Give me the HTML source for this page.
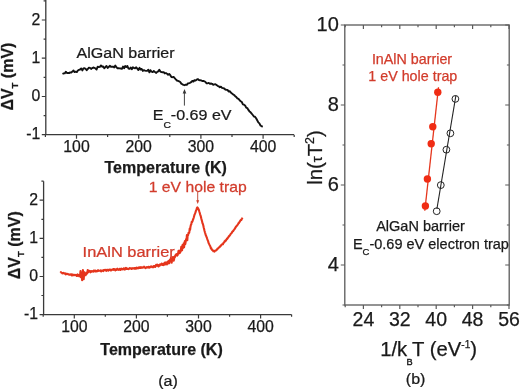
<!DOCTYPE html>
<html><head><meta charset="utf-8"><title>Figure</title>
<style>
html,body{margin:0;padding:0;background:#fff;}
body{width:520px;height:390px;overflow:hidden;}
svg{display:block;}
text{font-family:"Liberation Sans", sans-serif;fill:#1a1a1a;stroke:#1a1a1a;stroke-width:0.25px;}
.tl{font-size:15.8px;}
.tr{font-size:19.5px;}
.an{font-size:14.8px;}
.ar{font-size:14.5px;}
.ax{font-size:16px;font-weight:bold;}
.lr{font-size:19.5px;}
.cap{font-size:14.8px;}
.red{fill:#d23c2c;stroke:#d23c2c;}
</style></head><body>
<svg width="520" height="390" viewBox="0 0 520 390">
<rect width="520" height="390" fill="#fff"/>
<path d="M45.8,0V134.7H294" fill="none" stroke="#3a3a3a" stroke-width="1.3"/>
<path d="M45.8,0.9h-2.2M45.8,20.0h-4M45.8,39.1h-2.2M45.8,58.2h-4M45.8,77.3h-2.2M45.8,96.5h-4M45.8,115.6h-2.2M45.8,134.7h-4M45.4,134.7v2.2M76.5,134.7v4M107.6,134.7v2.2M138.7,134.7v4M169.8,134.7v2.2M200.9,134.7v4M232.0,134.7v2.2M263.1,134.7v4M294.2,134.7v2.2" fill="none" stroke="#3a3a3a" stroke-width="1.2"/>
<text transform="translate(40.3,24.6) scale(1,1)" text-anchor="end" class="tl">2</text>
<text transform="translate(40.3,62.8) scale(1,1)" text-anchor="end" class="tl">1</text>
<text transform="translate(40.3,101.1) scale(1,1)" text-anchor="end" class="tl">0</text>
<text transform="translate(40.3,139.3) scale(1,1)" text-anchor="end" class="tl">-1</text>
<text transform="translate(76.5,151.7) scale(1,1)" text-anchor="middle" class="tl">100</text>
<text transform="translate(138.7,151.7) scale(1,1)" text-anchor="middle" class="tl">200</text>
<text transform="translate(200.9,151.7) scale(1,1)" text-anchor="middle" class="tl">300</text>
<text transform="translate(263.1,151.7) scale(1,1)" text-anchor="middle" class="tl">400</text>
<polyline points="62.5,74.0 63.6,73.4 64.7,73.4 65.8,71.7 66.9,73.0 68.0,72.9 69.1,73.1 70.2,72.4 71.3,72.5 72.4,71.6 73.5,70.5 74.6,72.1 75.7,71.7 76.8,72.1 77.9,70.5 79.0,69.8 80.1,69.5 81.2,68.4 82.3,70.4 83.4,68.5 84.5,68.2 85.6,68.9 86.7,70.2 87.8,69.0 88.9,67.7 90.0,67.9 91.1,68.9 92.2,68.1 93.3,67.5 94.4,67.8 95.5,68.5 96.6,69.5 97.7,66.7 98.8,67.1 99.9,66.9 101.0,65.4 102.1,66.7 103.2,66.5 104.3,68.3 105.4,67.2 106.5,65.9 107.6,67.9 108.7,67.0 109.8,65.8 110.9,66.8 112.0,66.8 113.1,66.6 114.2,67.4 115.3,65.5 116.4,67.2 117.5,68.3 118.6,68.2 119.7,68.4 120.8,68.5 121.9,68.8 123.0,66.6 124.1,68.3 125.2,66.0 126.3,67.1 127.4,66.0 128.5,68.6 129.6,68.9 130.7,67.6 131.8,69.3 132.9,67.3 134.0,68.1 135.1,68.2 136.2,67.3 137.3,68.7 138.4,70.1 139.5,67.8 140.6,69.6 141.7,68.9 142.8,70.9 143.9,70.1 145.0,70.6 146.1,70.9 147.2,70.8 148.3,69.7 149.4,72.3 150.5,70.2 151.6,71.7 152.7,72.1 153.8,71.0 154.9,71.9 156.0,72.9 157.1,72.0 158.2,71.4 159.3,69.8 160.4,71.6 161.5,72.1 162.6,72.3 163.7,72.1 164.8,73.5 165.9,73.0 167.0,73.7 168.1,74.8 169.2,74.0 170.3,75.2 171.4,77.1 172.5,77.2 173.6,76.9 174.7,78.2 175.8,79.4 176.9,80.5 178.0,80.8 179.1,81.3 180.2,82.0 181.3,83.6 182.4,84.3 183.5,84.8 184.6,85.2 185.7,84.7 186.8,84.8 187.9,83.4 189.0,83.2 190.1,82.8 191.2,82.1 192.3,80.9 193.4,81.6 194.5,80.2 195.6,80.5 196.7,79.7 197.8,79.1 198.9,80.0 200.0,80.2 201.1,80.4 202.2,81.0 203.3,80.9 204.4,81.3 205.5,82.0 206.6,83.4 207.7,83.2 208.8,82.9 209.9,83.7 211.0,83.5 212.1,83.8 213.2,84.8 214.3,84.4 215.4,84.2 216.5,85.0 217.6,85.8 218.7,86.3 219.8,87.2 220.9,86.7 222.0,87.9 223.1,88.2 224.2,88.5 225.3,89.5 226.4,89.9 227.5,89.9 228.6,91.5 229.7,91.1 230.8,92.5 231.9,93.4 233.0,94.4 234.1,95.0 235.2,96.2 236.3,97.1 237.4,98.4 238.5,98.9 239.6,100.2 240.7,101.2 241.8,102.0 242.9,104.3 244.0,104.7 245.1,105.5 246.2,107.6 247.3,108.1 248.4,109.9 249.5,111.4 250.6,112.3 251.7,113.7 252.8,115.0 253.9,116.5 255.0,116.7 256.1,118.2 257.2,120.3 258.3,122.4 259.4,123.4 260.5,125.5 261.6,126.2 262.7,126.8" fill="none" stroke="#111" stroke-width="1.9" stroke-linejoin="round"/>
<path d="M43.6,181.2V314.6H291.5" fill="none" stroke="#3a3a3a" stroke-width="1.3"/>
<path d="M43.6,181.1h-2.2M43.6,200.2h-4M43.6,219.3h-2.2M43.6,238.3h-4M43.6,257.4h-2.2M43.6,276.5h-4M43.6,295.5h-2.2M43.6,314.6h-4M43.2,314.6v2.2M74.3,314.6v4M105.3,314.6v2.2M136.4,314.6v4M167.4,314.6v2.2M198.5,314.6v4M229.6,314.6v2.2M260.6,314.6v4M291.6,314.6v2.2" fill="none" stroke="#3a3a3a" stroke-width="1.2"/>
<text transform="translate(38.1,204.8) scale(1,1)" text-anchor="end" class="tl">2</text>
<text transform="translate(38.1,242.9) scale(1,1)" text-anchor="end" class="tl">1</text>
<text transform="translate(38.1,281.1) scale(1,1)" text-anchor="end" class="tl">0</text>
<text transform="translate(38.1,319.2) scale(1,1)" text-anchor="end" class="tl">-1</text>
<text transform="translate(74.3,331.6) scale(1,1)" text-anchor="middle" class="tl">100</text>
<text transform="translate(136.4,331.6) scale(1,1)" text-anchor="middle" class="tl">200</text>
<text transform="translate(198.5,331.6) scale(1,1)" text-anchor="middle" class="tl">300</text>
<text transform="translate(260.6,331.6) scale(1,1)" text-anchor="middle" class="tl">400</text>
<polyline points="60.5,272.8 60.9,272.2 61.3,272.6 61.7,272.7 62.1,273.2 62.5,273.4 62.9,273.0 63.3,273.1 63.7,272.8 64.1,273.4 64.5,273.6 64.9,273.7 65.3,273.4 65.7,274.4 66.1,274.2 66.5,273.8 66.9,273.7 67.3,273.9 67.7,274.1 68.1,274.1 68.5,274.3 68.9,274.5 69.3,274.8 69.7,274.8 70.1,274.4 70.5,274.6 70.9,274.4 71.3,274.4 71.7,275.3 72.1,274.5 72.5,275.4 72.9,274.6 73.3,274.9 73.7,275.2 74.1,274.9 74.5,275.1 74.9,274.9 75.3,274.9 75.7,275.0 76.1,274.9 76.5,275.8 76.9,275.2 77.3,275.9 77.7,274.4 78.1,275.4 78.5,275.8 78.9,275.2 79.3,276.3 79.7,275.9 80.1,275.0 80.5,271.0 80.9,277.3 81.3,277.1 81.7,274.9 82.1,280.1 82.5,274.4 82.9,270.1 83.3,273.7 83.7,279.1 84.1,274.3 84.5,272.3 84.9,273.9 85.3,274.4 85.7,275.2 86.1,274.2 86.5,273.3 86.9,272.4 87.3,273.5 87.7,270.1 88.1,271.4 88.5,271.9 88.9,270.9 89.3,271.4 89.7,270.9 90.1,271.2 90.5,272.3 90.9,271.5 91.3,271.2 91.7,271.7 92.1,271.1 92.5,271.5 92.9,271.2 93.3,271.7 93.7,270.6 94.1,271.3 94.5,271.1 94.9,270.6 95.3,271.3 95.7,270.6 96.1,271.5 96.5,271.1 96.9,271.1 97.3,270.9 97.7,271.2 98.1,270.2 98.5,270.8 98.9,270.6 99.3,270.8 99.7,270.7 100.1,270.9 100.5,270.4 100.9,271.3 101.3,271.4 101.7,270.5 102.1,270.5 102.5,270.6 102.9,270.9 103.3,271.1 103.7,270.0 104.1,270.2 104.5,270.0 104.9,270.0 105.3,269.8 105.7,270.4 106.1,269.9 106.5,270.8 106.9,270.5 107.3,269.8 107.7,269.8 108.1,269.9 108.5,270.6 108.9,269.8 109.3,269.5 109.7,270.0 110.1,270.1 110.5,269.7 110.9,270.5 111.3,270.0 111.7,270.0 112.1,269.6 112.5,269.8 112.9,269.8 113.3,269.0 113.7,269.9 114.1,269.1 114.5,269.7 114.9,269.2 115.3,270.4 115.7,269.7 116.1,269.9 116.5,269.9 116.9,269.1 117.3,268.7 117.7,269.4 118.1,269.8 118.5,269.5 118.9,269.7 119.3,269.7 119.7,268.8 120.1,269.4 120.5,270.0 120.9,269.1 121.3,268.5 121.7,269.2 122.1,269.0 122.5,269.3 122.9,268.8 123.3,269.2 123.7,268.3 124.1,269.4 124.5,269.6 124.9,269.5 125.3,268.4 125.7,269.1 126.1,267.9 126.5,269.0 126.9,268.8 127.3,268.5 127.7,268.9 128.1,268.8 128.5,269.1 128.9,268.7 129.3,268.8 129.7,268.0 130.1,268.2 130.5,268.4 130.9,268.6 131.3,268.5 131.7,269.0 132.1,268.1 132.5,268.3 132.9,268.5 133.3,268.3 133.7,268.5 134.1,268.1 134.5,268.7 134.9,268.1 135.3,268.6 135.7,268.1 136.1,268.6 136.5,267.6 136.9,268.2 137.3,267.9 137.7,268.1 138.1,268.4 138.5,267.5 138.9,267.4 139.3,267.5 139.7,267.9 140.1,267.1 140.5,267.8 140.9,267.3 141.3,267.3 141.7,267.5 142.1,267.8 142.5,267.4 142.9,267.4 143.3,267.5 143.7,267.4 144.1,266.6 144.5,267.3 144.9,267.5 145.3,267.8 145.7,268.1 146.1,267.6 146.5,267.4 146.9,267.0 147.3,267.3 147.7,267.5 148.1,267.6 148.5,266.8 148.9,267.2 149.3,267.4 149.7,267.7 150.1,267.1 150.5,266.6 150.9,266.5 151.3,266.6 151.7,266.4 152.1,267.2 152.5,267.3 152.9,267.0 153.3,267.2 153.7,266.1 154.1,266.6 154.5,266.0 154.9,266.2 155.3,266.8 155.7,266.0 156.1,264.8 156.5,265.7 156.9,265.3 157.3,264.7 157.7,265.1 158.1,266.0 158.5,266.4 158.9,265.0 159.3,265.8 159.7,265.8 160.1,264.3 160.5,264.8 160.9,264.7 161.3,264.7 161.7,263.6 162.1,264.2 162.5,264.9 162.9,264.9 163.3,265.1 163.7,263.6 164.1,264.8 164.5,263.9 164.9,262.6 165.3,264.4 165.7,262.5 166.1,263.7 166.5,262.5 166.9,264.4 167.3,262.7 167.7,261.6 168.1,263.4 168.5,262.1 168.9,260.8 169.3,263.3 169.7,260.3 170.1,259.7 170.5,259.6 170.9,257.9 171.3,259.1 171.7,262.7 172.1,258.0 172.5,259.2 172.9,257.1 173.3,257.6 173.7,260.6 174.1,259.3 174.5,256.6 174.9,257.2 175.3,255.5 175.7,255.1 176.1,254.5 176.5,254.1 176.9,255.6 177.3,255.6 177.7,254.9 178.1,253.3 178.5,250.9 178.9,252.5 179.3,250.7 179.7,253.1 180.1,252.1 180.5,251.9 180.9,249.6 181.3,246.7 181.7,250.5 182.1,250.2 182.5,245.1 182.9,246.9 183.3,247.8 183.7,243.4 184.1,247.1 184.5,242.9 184.9,241.0 185.3,244.1 185.7,241.5 186.1,239.1 186.5,240.6 186.9,235.1 187.3,240.1 187.7,234.7 188.1,235.2 188.5,232.9 188.9,233.0 189.3,232.5 189.7,228.5 190.1,229.8 190.5,226.7 190.9,224.8 191.3,224.3 191.7,221.9 192.1,222.1 192.5,221.3 192.9,219.9 193.3,219.0 193.7,217.7 194.1,216.2 194.5,214.8 194.9,213.9 195.3,212.9 195.7,211.6 196.1,210.3 196.5,209.8 196.9,208.1 197.3,207.4 197.7,207.6 198.1,208.6 198.5,209.2 198.9,210.0 199.3,211.5 199.7,212.8 200.1,214.3 200.5,215.4 200.9,216.7 201.3,218.4 201.7,219.9 202.1,221.6 202.5,223.2 202.9,224.0 203.3,225.6 203.7,227.4 204.1,229.0 204.5,230.7 204.9,232.2 205.3,233.5 205.7,235.0 206.1,235.8 206.5,236.8 206.9,237.8 207.3,239.1 207.7,240.2 208.1,241.1 208.5,242.8 208.9,243.6 209.3,244.4 209.7,245.2 210.1,245.9 210.5,246.9 210.9,248.4 211.3,248.1 211.7,249.3 212.1,249.9 212.5,250.2 212.9,250.5 213.3,251.1 213.7,250.9 214.1,251.4 214.5,251.6 214.9,250.8 215.3,250.6 215.7,250.6 216.1,250.5 216.5,250.2 216.9,249.7 217.3,249.0 217.7,248.5 218.1,248.5 218.5,248.1 218.9,247.4 219.3,247.2 219.7,246.9 220.1,246.7 220.5,245.7 220.9,245.7 221.3,244.9 221.7,244.7 222.1,244.3 222.5,244.3 222.9,244.3 223.3,243.1 223.7,242.8 224.1,242.5 224.5,241.4 224.9,241.5 225.3,240.5 225.7,240.8 226.1,240.3 226.5,239.6 226.9,238.7 227.3,238.9 227.7,238.0 228.1,237.5 228.5,237.1 228.9,236.0 229.3,236.0 229.7,235.6 230.1,235.0 230.5,234.4 230.9,233.6 231.3,233.4 231.7,232.8 232.1,232.2 232.5,231.5 232.9,231.3 233.3,230.9 233.7,230.1 234.1,229.7 234.5,229.2 234.9,228.7 235.3,227.8 235.7,227.2 236.1,226.6 236.5,226.1 236.9,225.7 237.3,225.3 237.7,224.4 238.1,224.0 238.5,223.1 238.9,223.1 239.3,222.2 239.7,221.8 240.1,221.0 240.5,220.6 240.9,219.9 241.3,220.0 241.7,219.1 242.1,218.4 242.5,217.6" fill="none" stroke="#e5351c" stroke-width="2.1" stroke-linejoin="round"/>
<text transform="translate(76.5,58.2) scale(1.085,1)" text-anchor="start" class="an">AlGaN barrier</text>
<text transform="translate(152.7,120.1) scale(1.085,1)" text-anchor="start" class="an">E<tspan dy="7.8" font-size="9.5">C</tspan><tspan dy="-7.8">-0.69 eV</tspan></text>
<path d="M184.4,105.6V91" stroke="#444" stroke-width="1" fill="none"/><path d="M184.5,89l-1.8,4.5h3.6z" fill="#333"/>
<text transform="translate(165.7,173) scale(1,1)" text-anchor="middle" class="ax">Temperature (K)</text>
<text transform="translate(13,76.6) rotate(-90)" text-anchor="middle" class="ax" style="font-size:16px">ΔV<tspan dy="4.5" font-size="9.5">T</tspan><tspan dy="-4.5"> (mV)</tspan></text>
<text transform="translate(148.7,192) scale(1.064,1)" text-anchor="start" class="an red">1 eV hole trap</text>
<text transform="translate(82.6,257.3) scale(1.11,1)" text-anchor="start" class="an red">InAlN barrier</text>
<path d="M197.7,191.5V201" stroke="#c4503f" stroke-width="1" fill="none"/><path d="M197.7,204l-1.5,-3.8h3z" fill="#d0402c"/>
<text transform="translate(161.5,355.4) scale(1,1)" text-anchor="middle" class="ax">Temperature (K)</text>
<text transform="translate(19.5,245.2) rotate(-90)" text-anchor="middle" class="ax" style="font-size:16px">ΔV<tspan dy="4.5" font-size="9.5">T</tspan><tspan dy="-4.5"> (mV)</tspan></text>
<text transform="translate(168,386) scale(1.085,1)" text-anchor="middle" class="cap">(a)</text>
<rect x="344.8" y="25.0" width="164.39999999999998" height="280.0" fill="none" stroke="#5a5a5a" stroke-width="1.3"/>
<path d="M344.8,25.0h-4M509.2,25.0h-4M344.8,65.0h-2.3M509.2,65.0h-2.3M344.8,105.0h-4M509.2,105.0h-4M344.8,145.0h-2.3M509.2,145.0h-2.3M344.8,185.0h-4M509.2,185.0h-4M344.8,225.0h-2.3M509.2,225.0h-2.3M344.8,265.0h-4M509.2,265.0h-4M344.8,305.0h-2.3M509.2,305.0h-2.3M345.2,25.0v2.3M345.2,305.0v2.3M363.4,25.0v4M363.4,305.0v4M381.6,25.0v2.3M381.6,305.0v2.3M399.8,25.0v4M399.8,305.0v4M418.0,25.0v2.3M418.0,305.0v2.3M436.2,25.0v4M436.2,305.0v4M454.4,25.0v2.3M454.4,305.0v2.3M472.6,25.0v4M472.6,305.0v4M490.8,25.0v2.3M490.8,305.0v2.3M509.0,25.0v4M509.0,305.0v4" fill="none" stroke="#5a5a5a" stroke-width="1.2"/>
<text x="338.8" y="30.8" text-anchor="end" class="tr" style="font-size:20px">10</text>
<text x="338.8" y="110.8" text-anchor="end" class="tr" style="font-size:20px">8</text>
<text x="338.8" y="190.8" text-anchor="end" class="tr" style="font-size:20px">6</text>
<text x="338.8" y="270.8" text-anchor="end" class="tr" style="font-size:20px">4</text>
<text x="363.4" y="325.8" text-anchor="middle" class="tr">24</text>
<text x="399.8" y="325.8" text-anchor="middle" class="tr">32</text>
<text x="436.2" y="325.8" text-anchor="middle" class="tr">40</text>
<text x="472.6" y="325.8" text-anchor="middle" class="tr">48</text>
<text x="509.0" y="325.8" text-anchor="middle" class="tr">56</text>
<path d="M438.5,87.2L424.8,210.8" stroke="#e5351c" stroke-width="1.3"/>
<circle cx="437.8" cy="92.2" r="3.7" fill="#f02c14"/>
<circle cx="432.8" cy="126.7" r="3.7" fill="#f02c14"/>
<circle cx="431.2" cy="143.7" r="3.7" fill="#f02c14"/>
<circle cx="427.4" cy="179" r="3.7" fill="#f02c14"/>
<circle cx="425.4" cy="206" r="3.7" fill="#f02c14"/>
<path d="M455.9,95.5L436.9,209" stroke="#222" stroke-width="1.1"/>
<circle cx="455.4" cy="98.9" r="3.4" fill="none" stroke="#222" stroke-width="1"/>
<circle cx="450.4" cy="133.3" r="3.4" fill="none" stroke="#222" stroke-width="1"/>
<circle cx="446.4" cy="149.7" r="3.4" fill="none" stroke="#222" stroke-width="1"/>
<circle cx="440.8" cy="185.1" r="3.4" fill="none" stroke="#222" stroke-width="1"/>
<circle cx="436.7" cy="211.2" r="3.4" fill="none" stroke="#222" stroke-width="1"/>
<text x="412" y="64.1" text-anchor="middle" class="ar red" style="font-size:14.3px">InAlN barrier</text>
<text x="412.8" y="81.1" text-anchor="middle" class="ar red" style="font-size:14.3px">1 eV hole trap</text>
<text x="420.5" y="230.5" text-anchor="middle" class="ar">AlGaN barrier</text>
<text x="352.9" y="248.5" class="ar">E<tspan dy="6" font-size="9.5">C</tspan><tspan dy="-6">-0.69 eV electron trap</tspan></text>
<text transform="translate(321.5,157.5) rotate(-90)" text-anchor="middle" class="lr" style="font-size:20.3px">ln(<tspan font-size="15">τ</tspan>T<tspan dy="-7.5" font-size="12.5">2</tspan><tspan dy="7.5">)</tspan></text>
<text x="428.6" y="356.4" text-anchor="middle" class="lr" style="font-size:20.3px">1/k<tspan dy="8.5" dx="-0.8" font-size="9.2" style="stroke-width:0.4px">B</tspan><tspan dy="-8.5" dx="-0.5">T (eV</tspan><tspan dy="-8.5" font-size="10">-1</tspan><tspan dy="8.5">)</tspan></text>
<text transform="translate(415.6,383.8) scale(1.085,1)" text-anchor="middle" class="cap">(b)</text>
</svg>
</body></html>
